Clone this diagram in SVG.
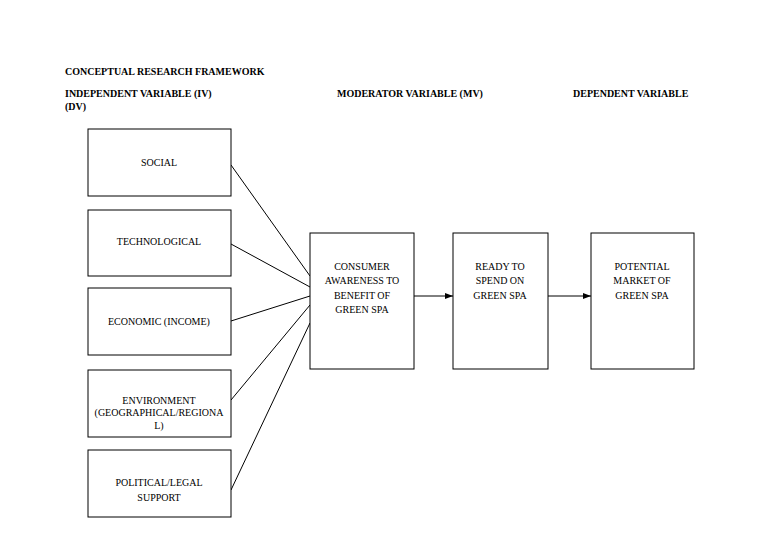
<svg xmlns="http://www.w3.org/2000/svg" width="768" height="543" viewBox="0 0 768 543">
<style>
text{font-family:"Liberation Serif",serif;font-size:10px;fill:#000}
.h{font-weight:bold}
.b{fill:#fff;stroke:#000;stroke-width:1}
.c{stroke:#000;stroke-width:1;fill:none}
</style>
<defs><marker id="a" markerWidth="8" markerHeight="6" refX="8" refY="3" orient="auto" markerUnits="userSpaceOnUse"><path d="M0,0L8,3L0,6z" fill="#000"/></marker></defs>
<rect width="768" height="543" fill="#fff"/>
<text class="h" x="65" y="75">CONCEPTUAL RESEARCH FRAMEWORK</text>
<text class="h" x="65" y="97">INDEPENDENT VARIABLE (IV)</text>
<text class="h" x="65" y="110">(DV)</text>
<text class="h" x="337" y="97">MODERATOR VARIABLE (MV)</text>
<text class="h" x="573" y="97">DEPENDENT VARIABLE</text>
<g id="connectors">
<line class="c" x1="231" y1="165" x2="310" y2="276"/>
<line class="c" x1="231" y1="244" x2="310" y2="287"/>
<line class="c" x1="231" y1="321" x2="310" y2="296"/>
<line class="c" x1="231" y1="400" x2="310" y2="305"/>
<line class="c" x1="231" y1="490" x2="310" y2="323"/>
<line class="c" x1="414" y1="296" x2="453" y2="296" marker-end="url(#a)"/>
<line class="c" x1="548" y1="296" x2="591" y2="296" marker-end="url(#a)"/>
</g>
<g text-anchor="middle">
<g id="social"><rect class="b" x="88" y="129" width="143" height="67"/><text x="159" y="166">SOCIAL</text></g>
<g id="tech"><rect class="b" x="88" y="210" width="143" height="66"/><text x="159" y="245">TECHNOLOGICAL</text></g>
<g id="econ"><rect class="b" x="88" y="288" width="143" height="67"/><text x="159" y="325">ECONOMIC (INCOME)</text></g>
<g id="env"><rect class="b" x="88" y="370" width="143" height="67"/><text x="159" y="404">ENVIRONMENT</text><text x="159" y="416">(GEOGRAPHICAL/REGIONA</text><text x="159" y="429">L)</text></g>
<g id="pol"><rect class="b" x="88" y="450" width="143" height="67"/><text x="159" y="486">POLITICAL/LEGAL</text><text x="159" y="501">SUPPORT</text></g>
<g id="consumer"><rect class="b" x="310" y="233" width="104" height="136"/><text x="362" y="270">CONSUMER</text><text x="362" y="284">AWARENESS TO</text><text x="362" y="299">BENEFIT OF</text><text x="362" y="313">GREEN SPA</text></g>
<g id="ready"><rect class="b" x="453" y="233" width="95" height="136"/><text x="500" y="270">READY TO</text><text x="500" y="284">SPEND ON</text><text x="500" y="299">GREEN SPA</text></g>
<g id="potential"><rect class="b" x="591" y="233" width="103" height="136"/><text x="642" y="270">POTENTIAL</text><text x="642" y="284">MARKET OF</text><text x="642" y="299">GREEN SPA</text></g>
</g>
</svg>
